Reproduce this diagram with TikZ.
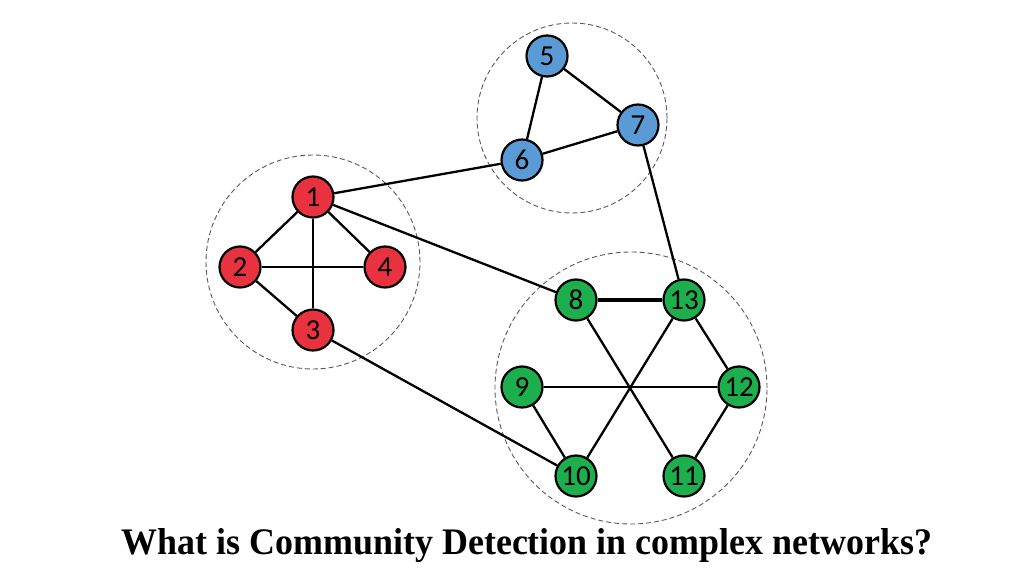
\documentclass[tikz,border=0pt]{standalone}
\usepackage{fontspec}
\setmainfont{Liberation Serif}
\newfontfamily\lblfont{Carlito}
\definecolor{nred}{HTML}{E8323F}
\definecolor{nblue}{HTML}{5B9BD5}
\definecolor{ngreen}{HTML}{1DAE4E}
\begin{document}
\begin{tikzpicture}[x=1pt,y=-1pt,
  vtx/.style={circle,draw=black,line width=2.2pt,minimum size=41pt,inner sep=0pt,
    font=\lblfont\fontsize{29}{29}\selectfont},
  rv/.style={vtx,fill=nred},
  bv/.style={vtx,fill=nblue},
  gv/.style={vtx,fill=ngreen},
  grp/.style={circle,draw=black!65,line width=0.9pt,dash pattern=on 5pt off 3pt,inner sep=0pt},
  edge/.style={line width=2.3pt}]
\useasboundingbox (0,0) rectangle (1024,585);
% community outlines
\node[grp,minimum size=214pt] (cr) at (313,262) {};
\node[grp,minimum size=190pt] (cb) at (572,118) {};
\node[grp,minimum size=272pt] (cg) at (631,388) {};
% vertices
\node[rv] (n1) at (313,197) {1};
\node[rv] (n2) at (240,267) {2};
\node[rv] (n3) at (313,330) {3};
\node[rv] (n4) at (385,267) {4};
\node[bv] (n5) at (547,56) {5};
\node[bv] (n6) at (522,160) {6};
\node[bv] (n7) at (638,125) {7};
\node[gv] (n8) at (576,300) {8};
\node[gv] (n13) at (684,300) {13};
\node[gv] (n9) at (522,387) {9};
\node[gv] (n12) at (739,387) {12};
\node[gv] (n10) at (576,476) {10};
\node[gv] (n11) at (684,476) {11};
% edges
\draw[edge] (n1) -- (n2);
\draw[edge] (n1) -- (n3);
\draw[edge] (n1) -- (n4);
\draw[edge] (n2) -- (n4);
\draw[edge] (n2) -- (n3);
\draw[edge] (n1) -- (n6);
\draw[edge] (n1) -- (n8);
\draw[edge] (n3) -- (n10);
\draw[edge] (n5) -- (n6);
\draw[edge] (n5) -- (n7);
\draw[edge] (n6) -- (n7);
\draw[edge] (n7) -- (n13);
\draw[line width=3.4pt] (n8) -- (n13);
\draw[edge] (n8) -- (n11);
\draw[edge] (n13) -- (n10);
\draw[edge] (n9) -- (n12);
\draw[edge] (n9) -- (n10);
\draw[edge] (n13) -- (n12);
\draw[edge] (n12) -- (n11);
% title
\node[anchor=base,inner sep=0pt] (title) at (527,554)
  {\resizebox{810pt}{26pt}{\bfseries What is Community Detection in complex networks?}};
\end{tikzpicture}
\end{document}
